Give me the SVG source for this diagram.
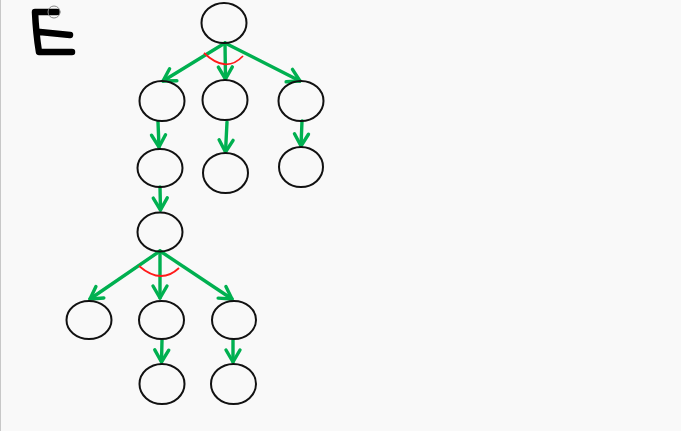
<svg xmlns="http://www.w3.org/2000/svg" width="681" height="431" viewBox="0 0 681 431">
<defs>
<style>
.n ellipse{fill:none;stroke:#111;stroke-width:2}
.e{fill:none;stroke:#00b050;stroke-width:3.4;stroke-linecap:round;marker-end:url(#ah)}
.arc{fill:none;stroke:#ff1a1a;stroke-width:1.8}
</style>
<marker id="ah" markerUnits="userSpaceOnUse" markerWidth="30" markerHeight="30" refX="15" refY="15" orient="auto" viewBox="0 0 30 30">
<path d="M3,8 L15,15 L3,22" fill="none" stroke="#00b050" stroke-width="3.4" stroke-linecap="round" stroke-linejoin="round"/>
</marker>
</defs>
<rect x="0" y="0" width="681" height="431" fill="#f9f9f9"/>
<line x1="0.5" y1="0" x2="0.5" y2="431" stroke="#c8c8c8" stroke-width="1"/>
<g id="letter">
<path d="M57,12 L35,12 Q36,34 39,52 L72,52 M40,32 L70,35" fill="none" stroke="#000" stroke-width="6.5" stroke-linecap="round" stroke-linejoin="round"/>
<circle cx="54" cy="12" r="6" fill="none" stroke="#888" stroke-width="1"/>
</g>
<g id="edges">
<path class="e" d="M225,43 L163,81"/>
<path class="e" d="M225,43 L225.5,79"/>
<path class="e" d="M225,43 L300,81"/>
<path class="arc" d="M204,53 Q226,74 243,56"/>
<path class="e" d="M158,122 L159,147"/>
<path class="e" d="M227,122 L225.5,152"/>
<path class="e" d="M302,121 L301,146"/>
<path class="e" d="M160,187 L160.5,210"/>
<path class="e" d="M160,251 L90,299"/>
<path class="e" d="M160,251 L160,298"/>
<path class="e" d="M160,251 L232,299"/>
<path class="arc" d="M139,266 Q161,285 179,268"/>
<path class="e" d="M162,340 L161.5,362"/>
<path class="e" d="M233,340 L233,362"/>
</g>
<g id="n1" class="n"><ellipse cx="224" cy="23" rx="22.5" ry="20"/></g>
<g id="n2" class="n"><ellipse cx="162" cy="101" rx="22.5" ry="20"/></g>
<g id="n3" class="n"><ellipse cx="225" cy="100" rx="22.5" ry="20"/></g>
<g id="n4" class="n"><ellipse cx="301" cy="101" rx="22.5" ry="20"/></g>
<g id="n5" class="n"><ellipse cx="160" cy="168" rx="22.5" ry="19"/></g>
<g id="n6" class="n"><ellipse cx="225.5" cy="173" rx="22.5" ry="20"/></g>
<g id="n7" class="n"><ellipse cx="301" cy="167" rx="22" ry="20"/></g>
<g id="n8" class="n"><ellipse cx="160" cy="232" rx="22.5" ry="19.5"/></g>
<g id="n9" class="n"><ellipse cx="89" cy="320" rx="22.5" ry="19"/></g>
<g id="n10" class="n"><ellipse cx="161.5" cy="320" rx="22.5" ry="19"/></g>
<g id="n11" class="n"><ellipse cx="234" cy="320" rx="22" ry="19"/></g>
<g id="n12" class="n"><ellipse cx="162" cy="384" rx="22.5" ry="20"/></g>
<g id="n13" class="n"><ellipse cx="233.5" cy="384" rx="22.5" ry="20"/></g>
</svg>
